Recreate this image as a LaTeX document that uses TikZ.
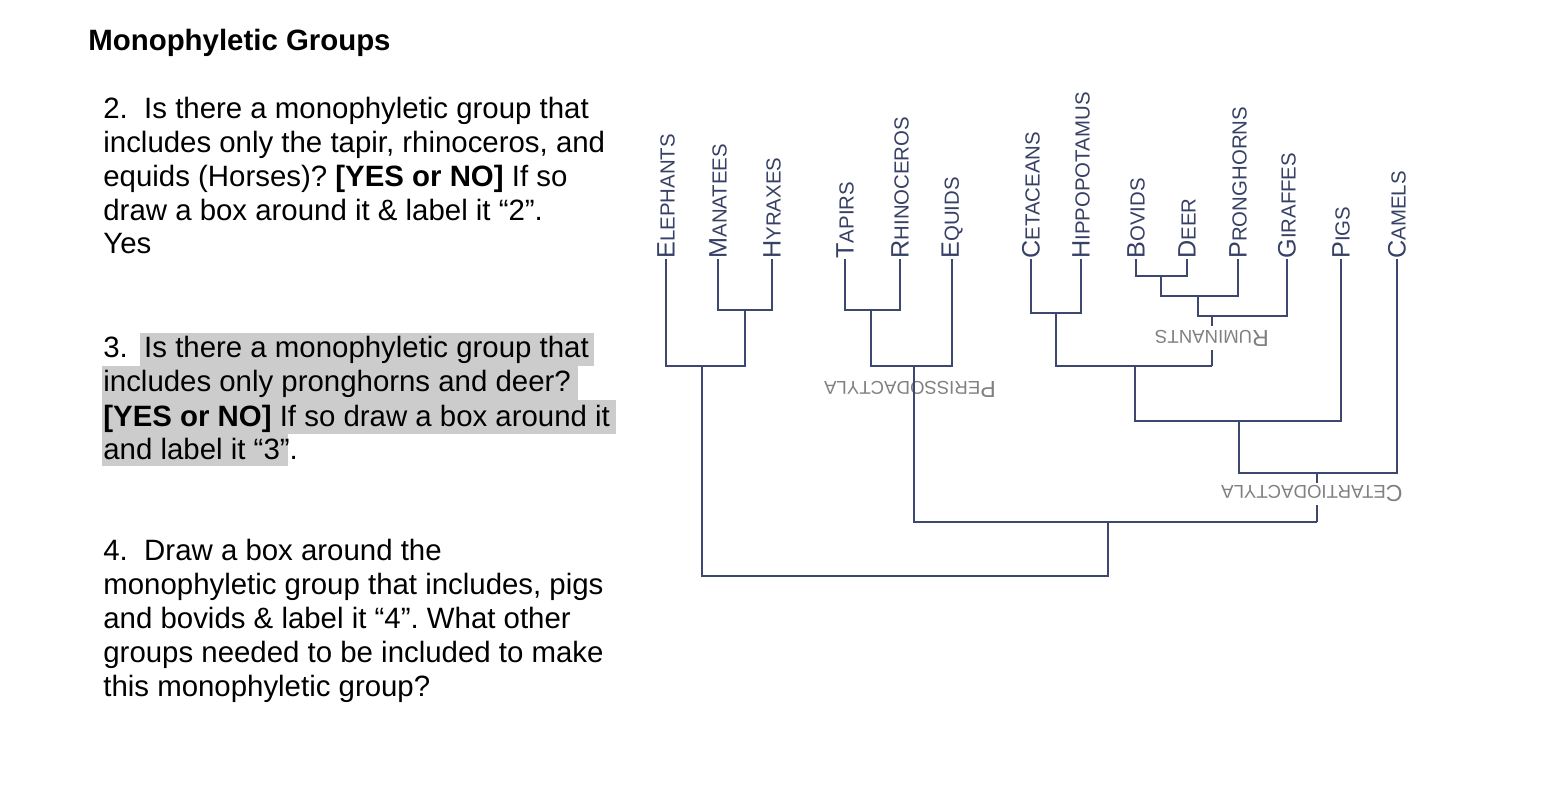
\documentclass[tikz,border=0pt]{standalone}
\usepackage{fontspec}
\setmainfont{Liberation Sans}
\usepackage{xcolor}
\definecolor{branch}{HTML}{3D4770}
\definecolor{hilite}{HTML}{CCCCCC}
\frenchspacing
\tikzstyle{line} = [branch, line width=1.4pt]
\tikzstyle{txt} = [anchor=base west, inner sep=0pt, font=\fontsize{14.7}{17}\selectfont]
\tikzstyle{taxon} = [rotate=90, anchor=west, inner sep=0pt, text=branch!90!black]
\tikzstyle{clade} = [rotate=180, inner sep=0pt, text=gray]
\newcommand{\tx}[2]{{\fontsize{12.6}{14}\selectfont #1}{\fontsize{10.2}{12}\selectfont #2}}
\newcommand{\cl}[2]{{\fontsize{11.6}{13}\selectfont #1}{\fontsize{9.3}{11}\selectfont #2}}

\begin{document}
\begin{tikzpicture}[x=0.5pt, y=-0.5pt]
	\useasboundingbox (0,0) rectangle (1550,790);
	% questions
	\node [txt, font=\fontsize{14.7}{17}\selectfont\bfseries] (title) at (88,51) {Monophyletic Groups};
	\node [txt] (q2a) at (103,119) {2.\ \ Is there a monophyletic group that};
	\node [txt] (q2b) at (103,153) {includes only the tapir, rhinoceros, and};
	\node [txt] (q2c) at (103,187) {equids (Horses)? \textbf{[YES or NO]} If so};
	\node [txt] (q2d) at (103,221) {draw a box around it \& label it “2”.};
	\node [txt] (q2e) at (103,254) {Yes};
	\fill [hilite] (140,333) rectangle (594,366);
	\fill [hilite] (102,366) rectangle (578,400);
	\fill [hilite] (102,400) rectangle (616,434);
	\fill [hilite] (102,434) rectangle (288,466);
	\node [txt] (q3a) at (103,358) {3.\ \ Is there a monophyletic group that};
	\node [txt] (q3b) at (103,392) {includes only pronghorns and deer?};
	\node [txt] (q3c) at (103,426) {\textbf{[YES or NO]} If so draw a box around it};
	\node [txt] (q3d) at (103,459) {and label it “3”.};
	\node [txt] (q4a) at (103,560) {4.\ \ Draw a box around the};
	\node [txt] (q4b) at (103,594) {monophyletic group that includes, pigs};
	\node [txt] (q4c) at (103,628) {and bovids \& label it “4”. What other};
	\node [txt] (q4d) at (103,662) {groups needed to be included to make};
	\node [txt] (q4e) at (103,696) {this monophyletic group?};

	% taxa
	\node [taxon] (eleph) at (666,259) {\tx{E}{LEPHANTS}};
	\node [taxon] (manat) at (718,259) {\tx{M}{ANATEES}};
	\node [taxon] (hyrax) at (772,259) {\tx{H}{YRAXES}};
	\node [taxon] (tapir) at (845,259) {\tx{T}{APIRS}};
	\node [taxon] (rhino) at (900,259) {\tx{R}{HINOCEROS}};
	\node [taxon] (equid) at (952,259) {\tx{E}{QUIDS}};
	\node [taxon] (cetac) at (1031,259) {\tx{C}{ETACEANS}};
	\node [taxon] (hippo) at (1081,259) {\tx{H}{IPPOPOTAMUS}};
	\node [taxon] (bovid) at (1136,259) {\tx{B}{OVIDS}};
	\node [taxon] (deer) at (1187,259) {\tx{D}{EER}};
	\node [taxon] (prong) at (1238,259) {\tx{P}{RONGHORNS}};
	\node [taxon] (giraf) at (1287,259) {\tx{G}{IRAFFES}};
	\node [taxon] (pigs) at (1341,259) {\tx{P}{IGS}};
	\node [taxon] (camel) at (1397,259) {\tx{C}{AMELS}};

	% clade names
	\node [clade] (periss) at (910,389) {\cl{P}{ERISSODACTYLA}};
	\node [clade] (rumin) at (1212,338) {\cl{R}{UMINANTS}};
	\node [clade] (cetart) at (1312,493) {\cl{C}{ETARTIODACTYLA}};

	% branches
	\draw [line] (manat.west) |- (745,310) -| (hyrax.west);
	\draw [line] (eleph.west) |- (702,366) -| (745,310);
	\draw [line] (tapir.west) |- (871,310) -| (rhino.west);
	\draw [line] (871,310) |- (914,366) -| (equid.west);
	\draw [line] (cetac.west) |- (1056,313) -| (hippo.west);
	\draw [line] (bovid.west) |- (1161,276) -| (deer.west);
	\draw [line] (1161,276) |- (1198,296) -| (prong.west);
	\draw [line] (1198,296) |- (1212,316) -| (giraf.west);
	\draw [line] (1212,316) -- (1212,326);
	\draw [line] (1212,350) -- (1212,366);
	\draw [line] (1056,313) |- (1135,366) -| (1212,366);
	\draw [line] (1135,366) |- (1239,421) -| (pigs.west);
	\draw [line] (1239,421) |- (1317,473) -| (camel.west);
	\draw [line] (1317,473) -- (1317,483);
	\draw [line] (1317,505) -- (1317,522);
	\draw [line] (914,366) |- (1108,522) -| (1317,522);
	\draw [line] (702,366) |- (905,576) -| (1108,522);
\end{tikzpicture}
\end{document}
